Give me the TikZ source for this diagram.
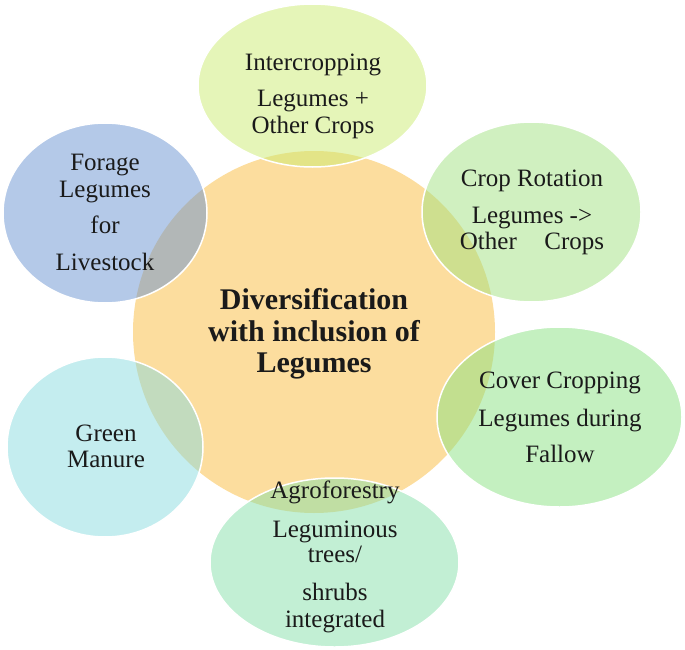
\documentclass[tikz,border=0pt]{standalone}
\usepackage{fontspec}
\setmainfont{Liberation Serif}
\usetikzlibrary{shapes.geometric}
\definecolor{ccenter}{HTML}{FCDD9E}
\definecolor{cinter}{RGB}{203,235,113}
\definecolor{crot}{RGB}{161,225,129}
\definecolor{ccover}{RGB}{137,225,129}
\definecolor{cagro}{RGB}{133,223,169}
\definecolor{cgreen}{RGB}{137,219,223}
\definecolor{cforage}{RGB}{105,147,209}
\definecolor{ctext}{HTML}{1A1A1A}
\newcommand{\firstln}{\rule{0pt}{20pt}}
\newcommand{\firstlnb}{\rule{0pt}{24pt}}
\tikzset{
  hub/.style={circle, fill=ccenter, draw=none, inner sep=0pt, minimum size=362pt},
  sat/.style={ellipse, fill opacity=0.5, draw=white, draw opacity=1, line width=1.5pt, inner sep=0pt},
  lbl/.style={anchor=north, inner sep=0pt, align=center, text=ctext, font=\fontsize{25}{27}\selectfont},
  hublbl/.style={anchor=north, inner sep=0pt, align=center, text=ctext, font=\fontsize{30}{32}\bfseries\selectfont}
}
\begin{document}
\begin{tikzpicture}[x=1pt,y=-1pt]
\useasboundingbox (0,0) rectangle (685,650);
\node[hub] (hub) at (314,332) {};
\node[sat, fill=cinter, minimum width=229pt, minimum height=163pt] (inter) at (312.5,85.5) {};
\node[sat, fill=crot, minimum width=219pt, minimum height=180pt] (rot) at (531.5,212) {};
\node[sat, fill=ccover, minimum width=245pt, minimum height=180pt] (cover) at (559.5,417) {};
\node[sat, fill=cagro, minimum width=249pt, minimum height=169pt] (agro) at (334.5,562.5) {};
\node[sat, fill=cgreen, minimum width=196pt, minimum height=180pt] (green) at (105,447) {};
\node[sat, fill=cforage, minimum width=204pt, minimum height=180pt] (forage) at (105,213) {};
% labels
\node[hublbl] (thub) at (314,285) {\firstlnb Diversification\\with inclusion of\\[-1pt]Legumes};
\node[lbl] (tinter) at (313,50) {\firstln Intercropping\\[9pt]Legumes +\\Other Crops};
\node[lbl] (trot) at (532,166) {\firstln Crop Rotation\\[10pt]Legumes ->\\[-1pt]Other\hspace{1.1em}Crops};
\node[lbl] (tcover) at (560,368) {\firstln Cover Cropping\\[11pt]Legumes during\\[9pt]Fallow};
\node[lbl] (tagro) at (335,478) {\firstln Agroforestry\\[12pt]Leguminous\\[-2pt]trees/\\[11pt]shrubs\\integrated};
\node[lbl] (tgreen) at (106,421) {\firstln Green\\[-1pt]Manure};
\node[lbl] (tforage) at (105,150) {\firstln Forage\\Legumes\\[9pt]for\\[10pt]Livestock};
\end{tikzpicture}
\end{document}
